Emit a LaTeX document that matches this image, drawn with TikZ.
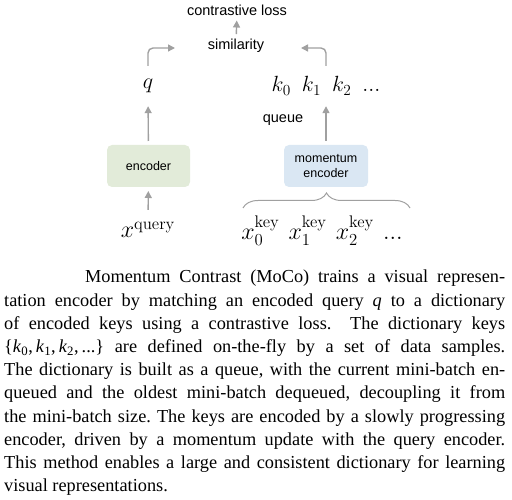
\documentclass[tikz,border=0pt]{standalone}
\usepackage{fix-cm}
\usepackage[no-math]{fontspec}
\setmainfont{Liberation Serif}
\newfontfamily\sanslbl{Liberation Sans}
\usepackage{amsmath}
\usetikzlibrary{arrows.meta,decorations.pathreplacing,calc}
\definecolor{moco_green}{RGB}{226, 235, 217}
\definecolor{moco_blue}{RGB}{218, 231, 243}
\definecolor{moco_grey}{RGB}{160, 160, 160}
\tikzstyle{gb}=[rectangle,rounded corners=0.5em,fill=moco_green,
  minimum width=83pt,minimum height=42pt,inner sep=2pt,outer sep=4pt,
  align=center,font=\sanslbl\fontsize{12.5pt}{14.7pt}\selectfont]
\tikzstyle{bb}=[rectangle,rounded corners=0.5em,fill=moco_blue,
  minimum width=84pt,minimum height=42pt,inner sep=2pt,outer sep=4pt,
  align=center,font=\sanslbl\fontsize{12.5pt}{14.7pt}\selectfont]
\tikzstyle{lbl}=[inner sep=5pt,font=\sanslbl\fontsize{14.5pt}{17pt}\selectfont]
\tikzstyle{mth}=[inner sep=2pt,minimum height=40pt,
  font=\fontsize{22pt}{26pt}\selectfont]
\tikzstyle{mthx}=[inner sep=2pt,minimum height=40pt,
  font=\fontsize{24pt}{28pt}\selectfont]
\tikzstyle{arr}=[draw=moco_grey,line width=1.4pt,
  -{Triangle[length=7pt,width=7pt]}]
\tikzstyle{brc}=[draw=moco_grey,line width=1pt,decorate,
  decoration={brace,amplitude=15pt}]
\tikzstyle{captxt}=[anchor=north west,inner sep=0pt,text width=501pt,
  align=justify,font=\fontsize{18.3pt}{23.2pt}\selectfont\frenchspacing]
\tikzstyle{none}=[]

\begin{document}
\begin{tikzpicture}[x=1pt,y=-1pt]
            \useasboundingbox (0, 0) rectangle (512, 500);
            \node [style=lbl] (0) at (237, 10) {contrastive loss};
            \node [style=lbl] (1) at (236, 46) {similarity};
            \node [style=mth] (2) at (148, 86) {\(q\)};
            \node [style=mth] (3) at (326, 86) {\(k_0\enspace k_1\enspace k_2\enspace ...\)};
            \node [style=lbl] (4) at (283, 120) {queue};
            \node [style=gb] (5) at (148.5, 166) {encoder};
            \node [style=bb] (6) at (326, 166) {momentum\\encoder};
            \node [style=mthx] (7) at (148, 230) {\(x^{\mathrm{query}}\)};
            \node [style=mthx] (8) at (322, 231) {\(x_0^{\mathrm{key}}\hspace{9pt}x_1^{\mathrm{key}}\hspace{9pt}x_2^{\mathrm{key}}\hspace{9pt}...\)};
            \node [style=none] (9) at (175, 48) {};
            \node [style=none] (10) at (301, 48) {};
            \node [style=none] (11) at (243, 208) {};
            \node [style=none] (12) at (410, 208) {};
            \draw [style=arr] (1) to (0);
            \draw [style=arr, rounded corners=5pt] (2) |- (9.center);
            \draw [style=arr, rounded corners=5pt] (3) |- (10.center);
            \draw [style=arr] (5) to (2);
            \draw [style=arr] (6) to (3);
            \draw [style=arr] (7) to (5);
            \draw [style=brc] (11.center) to (12.center);
            \node [style=captxt] (13) at (4, 270) {\hspace*{81pt}Momentum Contrast (MoCo) trains a visual represen-\linebreak
              tation encoder by matching an encoded query \textit{q} to a dictionary\linebreak
              of encoded keys using a contrastive loss.\ \ The dictionary keys\linebreak
              \{\textit{k}\textsubscript{0},\,\textit{k}\textsubscript{1},\,\textit{k}\textsubscript{2},\,...\} are defined on-the-fly by a set of data samples.\linebreak
              The dictionary is built as a queue, with the current mini-batch en-\linebreak
              queued and the oldest mini-batch dequeued, decoupling it from\linebreak
              the mini-batch size. The keys are encoded by a slowly progressing\linebreak
              encoder, driven by a momentum update with the query encoder.\linebreak
              This method enables a large and consistent dictionary for learning\linebreak
              visual representations.};
    \end{tikzpicture}
\end{document}
